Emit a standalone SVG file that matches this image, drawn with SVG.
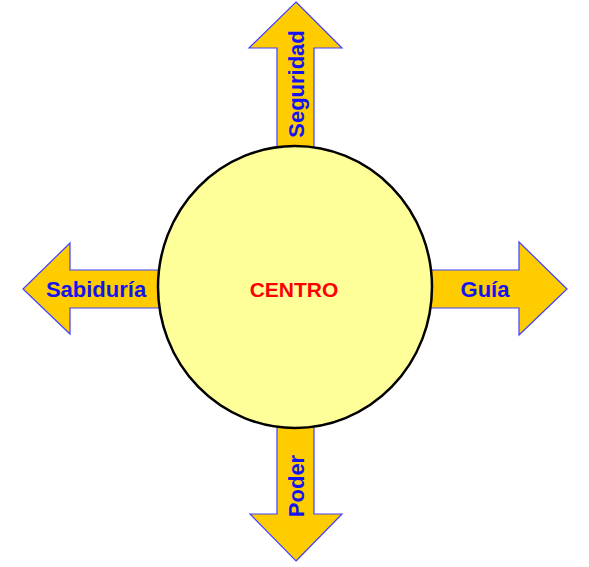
<svg xmlns="http://www.w3.org/2000/svg" width="589" height="567" viewBox="0 0 589 567">
<style>
.arr{fill:#FFCC00;stroke:#4040FF;stroke-width:1.2;stroke-linejoin:miter}
.lbl{font-family:"Liberation Sans",Arial,sans-serif;font-weight:bold;font-size:22px;fill:#1414EE;text-anchor:middle}
.ctr{font-family:"Liberation Sans",Arial,sans-serif;font-weight:bold;font-size:21px;fill:#FF0000;text-anchor:middle}
</style>
<rect width="589" height="567" fill="#FFFFFF"/>
<g id="arrow-seguridad">
<polygon class="arr" points="296,2 342,48 314,48 314,200 277,200 277,48 249,48"/>
<text class="lbl" transform="translate(304,84) rotate(-90)">Seguridad</text>
</g>
<g id="arrow-poder">
<polygon class="arr" points="296,561 342,514 314,514 314,380 277,380 277,514 250,514"/>
<text class="lbl" transform="translate(304,486) rotate(-90)">Poder</text>
</g>
<g id="arrow-sabiduria">
<polygon class="arr" points="23,289 70,243 70,270 220,270 220,308 70,308 70,334"/>
<text class="lbl" x="96" y="297">Sabiduría</text>
</g>
<g id="arrow-guia">
<polygon class="arr" points="567,289 519,242 519,270 380,270 380,308 519,308 519,335"/>
<text class="lbl" x="485" y="297">Guía</text>
</g>
<g id="centro">
<ellipse cx="295" cy="287" rx="137" ry="141" fill="#FFFF99" stroke="#000000" stroke-width="2.5"/>
<text class="ctr" x="294" y="297">CENTRO</text>
</g>
</svg>
